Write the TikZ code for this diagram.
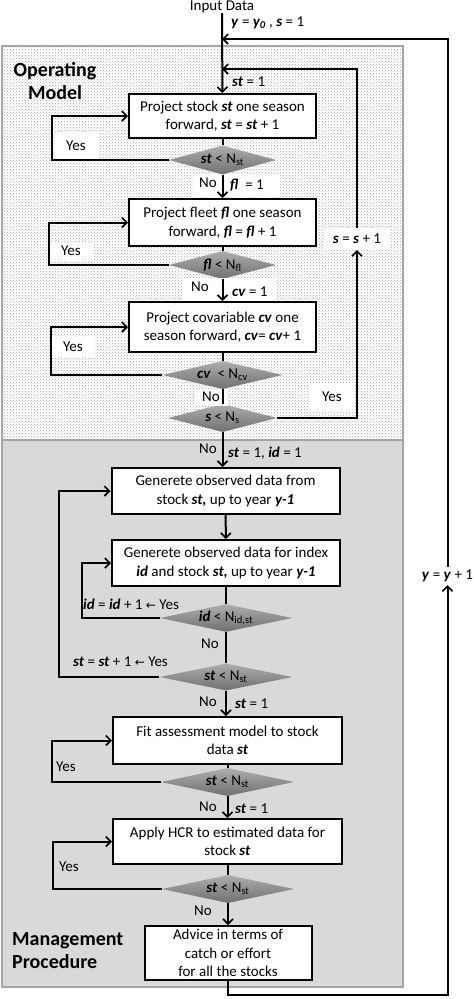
\documentclass[tikz,border=0pt]{standalone}
\usepackage{fontspec}
\setmainfont{Carlito}
\newfontfamily\arrfont{DejaVu Sans}
\usetikzlibrary{arrows.meta,shapes.geometric,patterns,calc}
\newcommand{\vb}[1]{\textbf{\textit{#1}}}
\newcommand{\lar}{{\arrfont\fontsize{12}{12}\selectfont ←}}
\begin{document}
\begin{tikzpicture}[x=1pt,y=-1pt,
  every node/.style={font=\fontsize{15}{18.5}\selectfont},
  box/.style={draw=black, line width=2pt, fill=white, align=center, inner sep=0pt},
  dec/.style={diamond, shape aspect=4, inner sep=0pt, top color=black!32, bottom color=black!56, draw=none},
  conn/.style={line width=2pt, draw=black},
  arr/.style={conn, -{Straight Barb[length=5pt,width=10pt,line width=1.6pt]}},
  wlab/.style={fill=white, inner sep=0pt},
  lab/.style={inner sep=1pt},
  ttl/.style={font=\fontsize{20}{23}\selectfont\bfseries, inner sep=0pt},
]
\useasboundingbox (0,0) rectangle (474,999);
\fill[white] (0,0) rectangle (474,999);
% regions
\fill[white] (2,46) rectangle (403,440);
\fill[pattern=crosshatch dots, pattern color=black!35] (2,46) rectangle (403,440);
\draw[black!35, line width=1.5pt] (2,46) rectangle (403,440);
\draw[black!35, line width=1.5pt, fill=black!15] (2,440) rectangle (403,987);

\node[ttl, align=center] (omt) at (55,81) {Operating\\Model};
\node[ttl, align=left, anchor=west] (mpt) at (12,951) {Management\\Procedure};

% top
\node[inner sep=0pt] (inp) at (222,7) {Input Data};
\node[lab, anchor=west] (lyy) at (230,23) {\vb{y} = \vb{y\textsubscript{0}} , \vb{s} = 1};
\coordinate (j1) at (222,39);
\coordinate (j2) at (222,69);
\node[lab, anchor=west] (lst1) at (231,82) {\vb{st} = 1};

% operating model boxes
\node[box, minimum width=187pt, minimum height=44pt] (b1) at (222.5,116) {Project stock \vb{st} one season\\forward, \vb{st} = \vb{st} + 1};
\node[dec, minimum width=107pt, minimum height=29pt] (d1) at (222.5,160) {\vb{st} < N\textsubscript{st}};
\node[box, minimum width=187pt, minimum height=47pt] (b2) at (222.5,222.5) {Project fleet \vb{fl} one season\\forward, \vb{fl} = \vb{fl} + 1};
\node[dec, minimum width=107pt, minimum height=28pt] (d2) at (222.5,265) {\vb{fl} < N\textsubscript{fl}};
\node[box, minimum width=187pt, minimum height=50pt] (b3) at (222.5,327) {Project covariable \vb{cv} one\\season forward, \vb{cv}= \vb{cv}+ 1};
\node[dec, minimum width=120pt, minimum height=28pt] (d3) at (222.5,375) {\vb{cv}~ < N\textsubscript{cv}};
\node[dec, minimum width=109pt, minimum height=28pt] (d4) at (222.5,418) {\vb{s} < N\textsubscript{s}};

% operating model labels
\node[wlab, minimum width=43pt, minimum height=27pt] (yes1) at (76,146) {Yes};
\node[wlab, minimum width=45pt, minimum height=19pt] (yes2) at (71,251) {Yes};
\node[wlab, minimum width=44pt, minimum height=22pt] (yes3) at (73,347) {Yes};
\node[wlab, minimum width=87pt, minimum height=22pt] (bg1) at (236.5,186) {};
\node[lab] (no1) at (208,183) {No};
\node[lab, anchor=west] (l1) at (229,185) {\vb{fl} ~= 1};
\node[wlab, minimum width=95pt, minimum height=22pt] (bg2) at (229.5,289) {};
\node[lab] (no2) at (200,287) {No};
\node[lab, anchor=west] (l2) at (231,292) {\vb{cv} = 1};
\node[wlab, minimum width=33pt, minimum height=17pt] (no3) at (211,397) {No};
\node[wlab, minimum width=45pt, minimum height=29pt] (yes4) at (332,397) {Yes};
\node[wlab, minimum width=65pt, minimum height=22pt] (sl) at (357,239) {\vb{s} = \vb{s} + 1};

% management procedure boxes
\node[box, minimum width=228pt, minimum height=46pt] (b4) at (225.5,491) {Generete observed data from\\stock \vb{st,} up to year \vb{y-1}};
\node[box, minimum width=228pt, minimum height=46pt] (b5) at (226,563) {Generete observed data for index\\\vb{id} and stock \vb{st,} up to year \vb{y-1}};
\node[dec, minimum width=132pt, minimum height=27pt] (d5) at (226,618) {\vb{id} < N\textsubscript{id,st}};
\node[dec, minimum width=133pt, minimum height=27pt] (d6) at (226,677) {\vb{st} < N\textsubscript{st}};
\node[box, minimum width=229pt, minimum height=47pt] (b6) at (227.5,740.5) {Fit assessment model to stock\\data \vb{st}};
\node[dec, minimum width=133pt, minimum height=28pt] (d7) at (227.5,782) {\vb{st} < N\textsubscript{st}};
\node[box, minimum width=229pt, minimum height=45pt] (b7) at (227.5,841.5) {Apply HCR to estimated data for\\stock \vb{st}};
\node[dec, minimum width=132pt, minimum height=28pt] (d8) at (228,889) {\vb{st} < N\textsubscript{st}};
\node[box, minimum width=167pt, minimum height=54pt] (b8) at (228,953) {Advice in terms of\\catch or effort\\for all the stocks};

% management labels
\node[lab] (no5) at (208,449) {No};
\node[lab, anchor=west] (l5) at (227,453) {\vb{st} = 1, \vb{id} = 1};
\node[lab, anchor=west] (l6) at (82,604) {\vb{id} = \vb{id} + 1 \lar{} Yes};
\node[lab] (no6) at (210,644) {No};
\node[lab, anchor=west] (l7) at (72,662) {\vb{st} = \vb{st} + 1 \lar{} Yes};
\node[lab] (no7) at (208,702) {No};
\node[lab, anchor=west] (l8) at (234,704) {\vb{st} = 1};
\node[lab] (yes7) at (66,767) {Yes};
\node[lab] (no8) at (208,807) {No};
\node[lab, anchor=west] (l9) at (234,809) {\vb{st} = 1};
\node[lab] (yes8) at (69,867) {Yes};
\node[lab] (no9) at (203,911) {No};
\node[inner sep=3pt] (yl) at (447.5,576) {\vb{y} = \vb{y} + 1};

% loop x positions
\coordinate (x1) at (52,0);
\coordinate (x2) at (49,0);
\coordinate (x3) at (51,0);
\coordinate (x4) at (59,0);
\coordinate (x5) at (82,0);
\coordinate (x6) at (52,0);
\coordinate (x7) at (53,0);
\coordinate (c1) at (447.5,995);

% main flow
\draw[arr] (inp) -- (b1);
\draw[conn] (b1) -- (d1);
\draw[arr] (d1) -- (b2);
\draw[conn] (b2) -- (d2);
\draw[arr] (d2) -- (b3);
\draw[conn] (b3) -- (d3);
\draw[conn] (d3) -- (d4);
\draw[arr] (d4.south) -- (d4.south |- b4.north);
\draw[arr] (b4) -- (b5);
\draw[conn] (b5.south) -- (b5.south |- d5.north);
\draw[conn] (d5) -- (d6);
\draw[arr] (d6.south) -- (d6.south |- b6.north);
\draw[conn] (b6.south) -- (b6.south |- d7.north);
\draw[arr] (d7) -- (b7);
\draw[conn] (b7.south) -- (b7.south |- d8.north);
\draw[arr] (d8) -- (d8 |- b8.north);

% yes loops
\draw[arr] (d1.west) -- (d1.west -| x1) |- (b1.west);
\draw[arr] (d2.west) -- (d2.west -| x2) |- (b2.west);
\draw[arr] (d3.west) -- (d3.west -| x3) |- (b3.west);
\draw[arr] (d6.west) -- (d6.west -| x4) |- (b4.west);
\draw[arr] (d5.west) -- (d5.west -| x5) |- (b5.west);
\draw[arr] (d7.west) -- (d7.west -| x6) |- (b6.west);
\draw[arr] (d8.west) -- (d8.west -| x7) |- (b7.west);

% season loop
\draw[arr] (d4.east) -| (sl.south);
\draw[arr] (sl.north) |- (j2);

% year loop
\draw[arr] (b8.south) |- (c1) -- (yl.south);
\draw[arr] (yl.north) |- (j1);
\end{tikzpicture}
\end{document}
